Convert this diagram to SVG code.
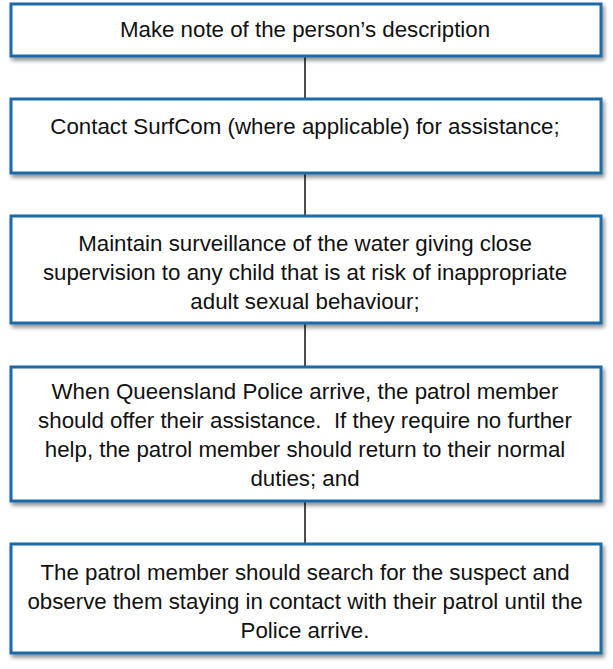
<svg xmlns="http://www.w3.org/2000/svg" width="613" height="669" viewBox="0 0 613 669">
<defs>
<filter id="sh" x="-5%" y="-20%" width="110%" height="150%">
<feGaussianBlur in="SourceAlpha" stdDeviation="2"/>
<feOffset dx="2" dy="3" result="b"/>
<feComponentTransfer><feFuncA type="linear" slope="0.45"/></feComponentTransfer>
<feMerge><feMergeNode/><feMergeNode in="SourceGraphic"/></feMerge>
</filter>
</defs>
<style>
.box{fill:#fff;stroke:#1f6aa8;stroke-width:3;filter:url(#sh)}
.t{font-family:"Liberation Sans",Arial,sans-serif;font-size:22.3px;fill:#111;text-anchor:middle;white-space:pre}
.c{stroke:#111;stroke-width:1.5;fill:none}
</style>
<rect width="613" height="669" fill="#fff"/>
<g id="connectors">
<line class="c" x1="305" y1="56" x2="305" y2="99"/>
<line class="c" x1="305" y1="173" x2="305" y2="216"/>
<line class="c" x1="305" y1="323" x2="305" y2="367"/>
<line class="c" x1="305" y1="501" x2="305" y2="544"/>
</g>
<g id="n1">
<rect class="box" x="11" y="4" width="590" height="52"/>
<text class="t" x="305" y="37">Make note of the person’s description</text>
</g>
<g id="n2">
<rect class="box" x="11" y="99" width="590" height="74"/>
<text class="t" x="305" y="134">Contact SurfCom (where applicable) for assistance;</text>
</g>
<g id="n3">
<rect class="box" x="11" y="216" width="590" height="107"/>
<text class="t" x="305" y="251">Maintain surveillance of the water giving close</text>
<text class="t" x="305" y="280">supervision to any child that is at risk of inappropriate</text>
<text class="t" x="305" y="309">adult sexual behaviour;</text>
</g>
<g id="n4">
<rect class="box" x="11" y="367" width="590" height="134"/>
<text class="t" x="305" y="399">When Queensland Police arrive, the patrol member</text>
<text class="t" x="305" y="428" xml:space="preserve">should offer their assistance.  If they require no further</text>
<text class="t" x="305" y="457">help, the patrol member should return to their normal</text>
<text class="t" x="305" y="486">duties; and</text>
</g>
<g id="n5">
<rect class="box" x="11" y="544" width="590" height="109"/>
<text class="t" x="305" y="580">The patrol member should search for the suspect and</text>
<text class="t" x="305" y="609">observe them staying in contact with their patrol until the</text>
<text class="t" x="305" y="638">Police arrive.</text>
</g>
</svg>
